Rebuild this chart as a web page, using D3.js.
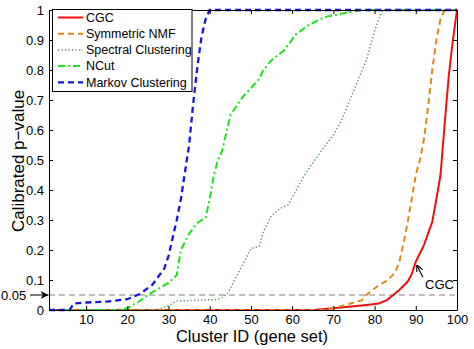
<!DOCTYPE html>
<meta charset="utf-8">
<style>
body { margin: 0; background: #fff; }
svg { font-family: "Liberation Sans", Arial, sans-serif; }
.axis path { stroke: #000; }
.axis line { stroke: #000; }
.axis text { font-size: 13px; fill: #000; }
.series { fill: none; }
</style>
<body>
<script src="https://d3js.org/d3.v7.js"></script>
<script>

// cluster IDs (x) and calibrated p-values (y)
var cgcX = [1, 65, 70, 78, 81, 83, 86, 88, 89, 90, 92, 94, 95, 96, 97, 98, 99, 100];
var cgcP = [0, 0, 0.006, 0.017, 0.022, 0.033, 0.067, 0.094, 0.119, 0.161, 0.217, 0.294, 0.37, 0.45, 0.62, 0.78, 0.9, 1];

var nmfX = [1, 68, 73, 77, 78, 81, 83, 85, 86, 87, 88, 89, 90, 91, 92, 93, 94, 95, 96, 97, 100];
var nmfP = [0, 0, 0.017, 0.033, 0.05, 0.083, 0.097, 0.125, 0.16, 0.22, 0.29, 0.37, 0.45, 0.5, 0.57, 0.68, 0.8, 0.9, 0.97, 1, 1];

var specX = [1, 27, 30, 32, 42, 43, 44, 45, 46, 47, 49, 50, 52, 53, 55, 57, 59, 61, 63, 65, 66, 67, 70, 72, 74, 76, 78, 80, 81, 82, 100];
var specP = [0, 0, 0.014, 0.03, 0.035, 0.042, 0.05, 0.07, 0.1, 0.125, 0.178, 0.205, 0.212, 0.26, 0.315, 0.338, 0.35, 0.4, 0.45, 0.49, 0.51, 0.53, 0.583, 0.633, 0.7, 0.767, 0.833, 0.93, 0.97, 1, 1];

var ncutX = [1, 17, 20, 23, 25, 28, 30, 32, 33, 35, 37, 39, 40, 41, 42, 43, 45, 48, 50, 52, 53, 55, 58, 61, 64, 68, 73, 77, 100];
var ncutP = [0, 0, 0.006, 0.03, 0.05, 0.075, 0.09, 0.117, 0.2, 0.255, 0.29, 0.308, 0.37, 0.45, 0.5, 0.53, 0.65, 0.71, 0.74, 0.77, 0.8, 0.833, 0.865, 0.92, 0.95, 0.977, 0.99, 1, 1];

var markovX = [1, 6, 7, 10, 15, 20, 23, 26, 28, 29, 30, 31, 32, 33, 34, 35, 36, 37, 38, 39, 40, 100];
var markovP = [0, 0, 0.022, 0.025, 0.028, 0.036, 0.053, 0.083, 0.12, 0.139, 0.18, 0.24, 0.3, 0.37, 0.46, 0.55, 0.69, 0.81, 0.91, 0.97, 1, 1];

var seriesNames = ["CGC", "Symmetric NMF", "Spectral Clustering", "NCut", "Markov Clustering"];
var xTicks = [10, 20, 30, 40, 50, 60, 70, 80, 90, 100];
var yTicks = [0, 0.1, 0.2, 0.3, 0.4, 0.5, 0.6, 0.7, 0.8, 0.9, 1];
var threshold = 0.05;

var W = 474, H = 349;
var margin = {top: 10, right: 17, bottom: 39, left: 49};

var x = d3.scaleLinear().domain([1, 100]).range([margin.left, W - margin.right]);
var y = d3.scaleLinear().domain([0, 1]).range([H - margin.bottom, margin.top]);

var svg = d3.select("body").append("svg")
    .attr("width", W)
    .attr("height", H);

var defs = svg.append("defs");
defs.append("marker")
    .attr("id", "headFill")
    .attr("viewBox", "0 0 10 10")
    .attr("refX", 10).attr("refY", 5)
    .attr("markerWidth", 8).attr("markerHeight", 8)
    .attr("markerUnits", "userSpaceOnUse")
    .attr("orient", "auto")
  .append("path")
    .attr("d", "M0,0 L10,5 L0,10 L3,5 Z")
    .attr("fill", "#000");
defs.append("marker")
    .attr("id", "headOpen")
    .attr("viewBox", "0 0 10 10")
    .attr("refX", 10).attr("refY", 5)
    .attr("markerWidth", 7).attr("markerHeight", 7)
    .attr("markerUnits", "userSpaceOnUse")
    .attr("orient", "auto")
  .append("path")
    .attr("d", "M0,0 L10,5 L0,10")
    .attr("fill", "none")
    .attr("stroke", "#000")
    .attr("stroke-width", 1.6);

// white plot area
svg.append("rect")
    .attr("x", x(1)).attr("y", y(1))
    .attr("width", x(100) - x(1)).attr("height", y(0) - y(1))
    .attr("fill", "#fff");

// 0.05 threshold line
svg.append("line")
    .attr("x1", x(1)).attr("x2", x(100))
    .attr("y1", y(threshold)).attr("y2", y(threshold))
    .attr("stroke", "#808080")
    .attr("stroke-width", 1)
    .attr("stroke-dasharray", "6,4");

var styles = [
  {x: cgcX, p: cgcP, color: "#f01010", width: 2, dash: null},
  {x: nmfX, p: nmfP, color: "#dc8a1c", width: 2, dash: "6,4"},
  {x: specX, p: specP, color: "#5c9c5c", width: 1.5, dash: "1.3,2.2"},
  {x: ncutX, p: ncutP, color: "#22e022", width: 2, dash: "7,3,2,3"},
  {x: markovX, p: markovP, color: "#1414e6", width: 2.3, dash: "6,4"}
];

var line = d3.line()
    .x(function(d) { return x(d[0]); })
    .y(function(d) { return y(d[1]); });

styles.forEach(function(s) {
  var pts = s.x.map(function(v, i) { return [v, s.p[i]]; });
  svg.append("path")
      .datum(pts)
      .attr("class", "series")
      .attr("d", line)
      .attr("stroke", s.color)
      .attr("stroke-width", s.width)
      .attr("stroke-dasharray", s.dash);
});

// axes with inward ticks, box style
svg.append("g")
    .attr("class", "axis")
    .attr("transform", "translate(0," + y(0) + ")")
    .call(d3.axisBottom(x).tickValues(xTicks).tickSizeInner(-4).tickSizeOuter(0).tickPadding(5)
      .tickFormat(d3.format("d")));

svg.append("g")
    .attr("class", "axis")
    .attr("transform", "translate(" + x(1) + ",0)")
    .call(d3.axisLeft(y).tickValues(yTicks).tickSizeInner(-4).tickSizeOuter(0).tickPadding(5)
      .tickFormat(function(d) { return d === 0 || d === 1 ? d3.format("d")(d) : d3.format(".1f")(d); }));

svg.append("g")
    .attr("class", "axis")
    .attr("transform", "translate(0," + y(1) + ")")
    .call(d3.axisTop(x).tickValues(xTicks).tickSizeInner(-4).tickSizeOuter(0).tickFormat(""));

svg.append("g")
    .attr("class", "axis")
    .attr("transform", "translate(" + x(100) + ",0)")
    .call(d3.axisRight(y).tickValues(yTicks).tickSizeInner(-4).tickSizeOuter(0).tickFormat(""));

// axis titles
svg.append("text")
    .attr("text-anchor", "middle")
    .attr("x", 252)
    .attr("y", 342)
    .style("font-size", "16.5px")
    .text("Cluster ID (gene set)");

svg.append("text")
    .attr("text-anchor", "middle")
    .attr("transform", "translate(24,161) rotate(-90)")
    .style("font-size", "17px")
    .text("Calibrated p\u2212value");

// 0.05 annotation
svg.append("text")
    .attr("x", 1)
    .attr("y", y(threshold))
    .attr("dy", "0.35em")
    .style("font-size", "13px")
    .text("0.05");
svg.append("line")
    .attr("x1", 30).attr("x2", x(1) - 0.5)
    .attr("y1", y(threshold)).attr("y2", y(threshold))
    .attr("stroke", "#000")
    .attr("stroke-width", 1)
    .attr("marker-end", "url(#headFill)");

// CGC annotation
svg.append("line")
    .attr("x1", x(90) + 7).attr("y1", y(0.11))
    .attr("x2", x(90) + 1).attr("y2", y(0.15))
    .attr("stroke", "#000")
    .attr("stroke-width", 1.2)
    .attr("marker-end", "url(#headOpen)");
svg.append("text")
    .attr("x", 425)
    .attr("y", 289)
    .style("font-size", "13px")
    .text("CGC");

// legend
var lg = svg.append("g");
lg.append("rect")
    .attr("x", 52.5).attr("y", 9.5)
    .attr("width", 139.5).attr("height", 82)
    .attr("fill", "#fff")
    .attr("stroke", "#000")
    .attr("stroke-width", 1);

styles.forEach(function(s, i) {
  var ly = 17.5 + i * 16.2;
  lg.append("line")
      .attr("x1", 58).attr("x2", 83)
      .attr("y1", ly).attr("y2", ly)
      .attr("stroke", s.color)
      .attr("stroke-width", s.width)
      .attr("stroke-dasharray", s.dash);
  lg.append("text")
      .attr("x", 86)
      .attr("y", ly)
      .attr("dy", "0.35em")
      .style("font-size", "12.5px")
      .text(seriesNames[i]);
});

</script>
</body>
</html>
